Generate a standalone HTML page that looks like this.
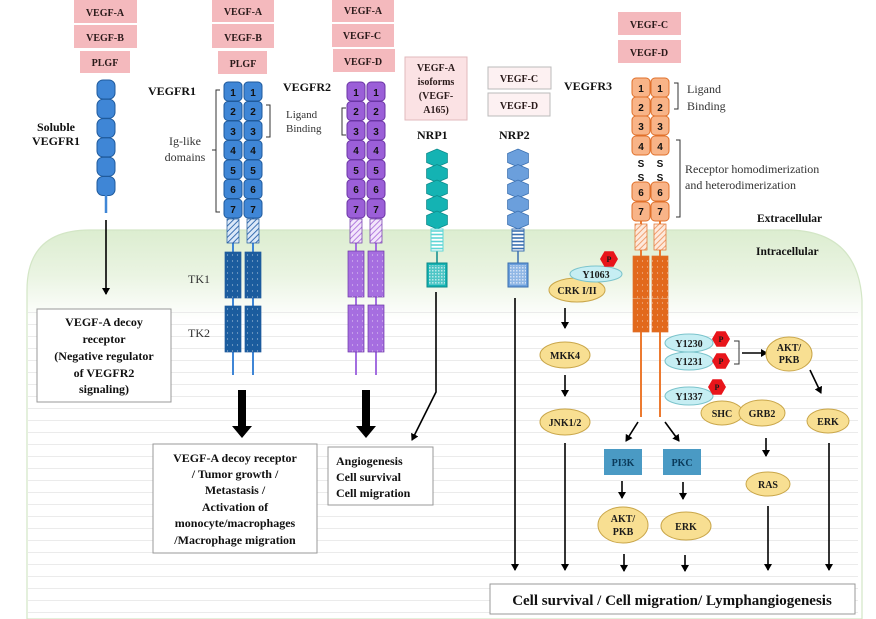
<!DOCTYPE html>
<html><head><meta charset="utf-8">
<style>
html,body{margin:0;padding:0;background:#fff;}
svg{display:block;font-family:"Liberation Serif",serif;}
.b{font-weight:bold;}
</style></head>
<body>
<svg id="s" width="876" height="619" viewBox="0 0 876 619" xmlns="http://www.w3.org/2000/svg">
<defs>
<linearGradient id="cell" x1="0" x2="0" gradientUnits="userSpaceOnUse" y1="230" y2="320">
<stop offset="0" stop-color="#dcedd0"/><stop offset="0.5" stop-color="#eaf4e2"/><stop offset="1" stop-color="#ffffff"/></linearGradient>
<pattern id="lines" width="12" height="12" patternUnits="userSpaceOnUse"><line x1="0" y1="0.5" x2="12" y2="0.5" stroke="#ebebeb" stroke-width="1"/></pattern>
<pattern id="h1" width="4" height="4" patternUnits="userSpaceOnUse" patternTransform="rotate(45)"><rect width="4" height="4" fill="#dbe8f8"/><line x1="0" y1="0" x2="0" y2="4" stroke-width="2" stroke="#3a6fb0"/></pattern>
<pattern id="h2" width="4" height="4" patternUnits="userSpaceOnUse" patternTransform="rotate(45)"><rect width="4" height="4" fill="#f3e6fb"/><line x1="0" y1="0" x2="0" y2="4" stroke-width="2" stroke="#b47ee0"/></pattern>
<pattern id="h3" width="4" height="4" patternUnits="userSpaceOnUse" patternTransform="rotate(45)"><rect width="4" height="4" fill="#fde9dc"/><line x1="0" y1="0" x2="0" y2="4" stroke-width="2" stroke="#f0a070"/></pattern>
<pattern id="dots" width="5" height="6" patternUnits="userSpaceOnUse"><circle cx="2.5" cy="3" r="0.6" fill="#ffffff" opacity="0.6"/></pattern>
<pattern id="chk" width="3" height="3" patternUnits="userSpaceOnUse"><rect width="3" height="3" fill="#fff" opacity="0.25"/><rect width="1.5" height="1.5" fill="#fff" opacity="0.6"/></pattern>
<marker id="ar" markerWidth="8" markerHeight="8" refX="6" refY="4" orient="auto" markerUnits="userSpaceOnUse"><path d="M0,0 L7,4 L0,8 Z" fill="#000"/></marker>
</defs>

<path d="M27,619 L27,290 Q27,230 90,230 L790,230 Q858,232 862,300 L862,619 Z" fill="url(#cell)" stroke="#d3e6c6" stroke-width="1.2"/>
<rect x="28" y="306" width="830" height="313" fill="url(#lines)"/>

<g class="b" font-size="10" text-anchor="middle" fill="#2a1a1a">
<rect x="74" y="0" width="63" height="23" fill="#f4b9bd"/><text x="105" y="16">VEGF-A</text>
<rect x="74" y="25" width="63" height="23" fill="#f4b9bd"/><text x="105" y="41">VEGF-B</text>
<rect x="80" y="51" width="50" height="22" fill="#f4b9bd"/><text x="105" y="66">PLGF</text>
<rect x="212" y="0" width="62" height="22" fill="#f4b9bd"/><text x="243" y="15">VEGF-A</text>
<rect x="212" y="24" width="62" height="24" fill="#f4b9bd"/><text x="243" y="41">VEGF-B</text>
<rect x="218" y="51" width="49" height="23" fill="#f4b9bd"/><text x="243" y="67">PLGF</text>
<rect x="332" y="0" width="62" height="22" fill="#f4b9bd"/><text x="363" y="14">VEGF-A</text>
<rect x="332" y="24" width="62" height="23" fill="#f4b9bd"/><text x="362" y="39">VEGF-C</text>
<rect x="333" y="49" width="62" height="23" fill="#f4b9bd"/><text x="363" y="65">VEGF-D</text>
<rect x="405" y="57" width="62" height="63" fill="#fbe2e4" stroke="#e2b9bc"/>
<text x="436" y="71">VEGF-A</text><text x="436" y="85">isoforms</text><text x="436" y="99">(VEGF-</text><text x="436" y="113">A165)</text>
<rect x="488" y="67" width="63" height="22" fill="#fdf1f2" stroke="#bbb"/><text x="519" y="82">VEGF-C</text>
<rect x="488" y="93" width="62" height="23" fill="#fdf1f2" stroke="#bbb"/><text x="519" y="109">VEGF-D</text>
<rect x="618" y="12" width="63" height="23" fill="#f4b9bd"/><text x="649" y="28">VEGF-C</text>
<rect x="618" y="40" width="63" height="23" fill="#f4b9bd"/><text x="649" y="56">VEGF-D</text>
</g>

<g id="shapes"></g>

<g class="b" font-size="12" fill="#111">
<text x="56" y="131" text-anchor="middle">Soluble</text><text x="56" y="145" text-anchor="middle">VEGFR1</text>
<text x="148" y="95">VEGFR1</text>
<text x="283" y="91">VEGFR2</text>
<text x="417" y="139">NRP1</text>
<text x="499" y="139">NRP2</text>
<text x="564" y="90">VEGFR3</text>
<text x="757" y="222" font-size="11.5">Extracellular</text>
<text x="756" y="255" font-size="11.5">Intracellular</text>
</g>
<g font-size="11" fill="#333">
<text x="185" y="145" text-anchor="middle" font-size="12">Ig-like</text><text x="185" y="161" text-anchor="middle" font-size="12">domains</text>
<text x="286" y="118">Ligand</text><text x="286" y="132">Binding</text>
<text x="687" y="93" font-size="12">Ligand</text><text x="687" y="110" font-size="12">Binding</text>
<text x="685" y="173" font-size="12">Receptor  homodimerization</text><text x="685" y="189" font-size="12">and heterodimerization</text>
<text x="188" y="283" font-size="12">TK1</text><text x="188" y="337" font-size="12">TK2</text>
</g>
<g fill="none" stroke="#333" stroke-width="1">
<path d="M220,90 L216,90 L216,212 L220,212 M216,150 L212,150"/>
<path d="M266,105 L270,105 L270,137 L266,137"/>
<path d="M346,108 L342,108 L342,135 L346,135"/>
<path d="M674,83 L678,83 L678,109 L674,109"/>
<path d="M676,140 L680,140 L680,217 L676,217"/>
<path d="M734,341 L739,341 L739,364 L734,364"/>
</g>

<g class="b" font-size="10" text-anchor="middle" fill="#111" font-family="Liberation Sans,sans-serif">
<text x="233" y="96">1</text><text x="253" y="96">1</text>
<text x="233" y="115">2</text><text x="253" y="115">2</text>
<text x="233" y="135">3</text><text x="253" y="135">3</text>
<text x="233" y="154">4</text><text x="253" y="154">4</text>
<text x="233" y="174">5</text><text x="253" y="174">5</text>
<text x="233" y="193">6</text><text x="253" y="193">6</text>
<text x="233" y="213">7</text><text x="253" y="213">7</text>
<text x="356" y="96">1</text><text x="376" y="96">1</text>
<text x="356" y="115">2</text><text x="376" y="115">2</text>
<text x="356" y="135">3</text><text x="376" y="135">3</text>
<text x="356" y="154">4</text><text x="376" y="154">4</text>
<text x="356" y="174">5</text><text x="376" y="174">5</text>
<text x="356" y="193">6</text><text x="376" y="193">6</text>
<text x="356" y="213">7</text><text x="376" y="213">7</text>
<text x="641" y="92">1</text><text x="660" y="92">1</text>
<text x="641" y="111">2</text><text x="660" y="111">2</text>
<text x="641" y="130">3</text><text x="660" y="130">3</text>
<text x="641" y="150">4</text><text x="660" y="150">4</text>
<text x="641" y="167">S</text><text x="660" y="167">S</text>
<text x="641" y="181">S</text><text x="660" y="181">S</text>
<text x="641" y="196">6</text><text x="660" y="196">6</text>
<text x="641" y="215">7</text><text x="660" y="215">7</text>
</g>

<g stroke="#000" stroke-width="1.6" fill="none">
<line x1="106" y1="220" x2="106" y2="294" marker-end="url(#ar)"/>
<polyline points="436,292 436,392 412,440" marker-end="url(#ar)"/>
<line x1="515" y1="298" x2="515" y2="570" marker-end="url(#ar)"/>
<line x1="565" y1="308" x2="565" y2="328" marker-end="url(#ar)"/>
<line x1="565" y1="375" x2="565" y2="396" marker-end="url(#ar)"/>
<line x1="565" y1="443" x2="565" y2="570" marker-end="url(#ar)"/>
<line x1="638" y1="422" x2="626" y2="441" marker-end="url(#ar)"/>
<line x1="665" y1="422" x2="679" y2="441" marker-end="url(#ar)"/>
<line x1="622" y1="481" x2="622" y2="498" marker-end="url(#ar)"/>
<line x1="683" y1="482" x2="683" y2="499" marker-end="url(#ar)"/>
<line x1="624" y1="554" x2="624" y2="571" marker-end="url(#ar)"/>
<line x1="685" y1="555" x2="685" y2="571" marker-end="url(#ar)"/>
<line x1="742" y1="353" x2="767" y2="353" marker-end="url(#ar)"/>
<line x1="810" y1="370" x2="821" y2="393" marker-end="url(#ar)"/>
<line x1="829" y1="443" x2="829" y2="570" marker-end="url(#ar)"/>
<line x1="766" y1="438" x2="766" y2="456" marker-end="url(#ar)"/>
<line x1="768" y1="506" x2="768" y2="570" marker-end="url(#ar)"/>
</g>
<path d="M238,390 h8 v36 h6 l-10,12 l-10,-12 h6 z" fill="#000"/>
<path d="M362,390 h8 v36 h6 l-10,12 l-10,-12 h6 z" fill="#000"/>

<g class="b" font-size="12" fill="#111" text-anchor="middle">
<rect x="37" y="309" width="134" height="93" fill="#fff" stroke="#999"/>
<text x="104" y="326">VEGF-A decoy</text><text x="104" y="343">receptor</text><text x="104" y="360">(Negative regulator</text><text x="104" y="377">of VEGFR2</text><text x="104" y="393">signaling)</text>
<rect x="153" y="444" width="164" height="109" fill="#fff" stroke="#999"/>
<text x="235" y="462">VEGF-A decoy  receptor</text><text x="235" y="478">/ Tumor growth /</text><text x="235" y="494">Metastasis /</text><text x="235" y="511">Activation of</text><text x="235" y="527">monocyte/macrophages</text><text x="235" y="544">/Macrophage  migration</text>
<rect x="328" y="447" width="105" height="58" fill="#fff" stroke="#999"/>
<text x="336" y="465" text-anchor="start">Angiogenesis</text><text x="336" y="481" text-anchor="start">Cell survival</text><text x="336" y="497" text-anchor="start">Cell migration</text>
<rect x="490" y="584" width="365" height="30" fill="#fff" stroke="#999"/>
<text x="672" y="605" font-size="15">Cell survival / Cell migration/ Lymphangiogenesis</text>
</g>

<g stroke="#c9a64a" stroke-width="1" fill="#f8df92">
<ellipse cx="577" cy="290" rx="28" ry="12"/>
<ellipse cx="565" cy="355" rx="25" ry="13"/>
<ellipse cx="565" cy="422" rx="25" ry="13"/>
<ellipse cx="789" cy="354" rx="23" ry="17"/>
<ellipse cx="828" cy="421" rx="21" ry="12"/>
<ellipse cx="722" cy="413" rx="21" ry="12"/>
<ellipse cx="762" cy="413" rx="23" ry="13"/>
<ellipse cx="768" cy="484" rx="22" ry="12"/>
<ellipse cx="623" cy="525" rx="25" ry="18"/>
<ellipse cx="686" cy="526" rx="25" ry="14"/>
</g>
<g stroke="#7cc4cc" stroke-width="1" fill="#c6eef3">
<ellipse cx="596" cy="274" rx="26" ry="8"/>
<ellipse cx="689" cy="343" rx="24" ry="9"/>
<ellipse cx="689" cy="361" rx="24" ry="9"/>
<ellipse cx="689" cy="396" rx="24" ry="9"/>
</g>
<rect x="604" y="449" width="38" height="26" fill="#4a9ac4"/>
<rect x="663" y="449" width="38" height="26" fill="#4a9ac4"/>
<g id="ps" fill="#e8151b"></g>
<g class="b" font-size="10" fill="#1a1a1a" text-anchor="middle">
<text x="577" y="294">CRK I/II</text>
<text x="565" y="359">MKK4</text>
<text x="565" y="426">JNK1/2</text>
<text x="789" y="351">AKT/</text><text x="789" y="363">PKB</text>
<text x="828" y="425">ERK</text>
<text x="722" y="417">SHC</text>
<text x="762" y="417">GRB2</text>
<text x="768" y="488">RAS</text>
<text x="623" y="522">AKT/</text><text x="623" y="535">PKB</text>
<text x="686" y="530">ERK</text>
<text x="596" y="278">Y1063</text>
<text x="689" y="347">Y1230</text>
<text x="689" y="365">Y1231</text>
<text x="689" y="400">Y1337</text>
<text x="623" y="466" fill="#0a3a5a">PI3K</text>
<text x="682" y="466" fill="#0a3a5a">PKC</text>
<text x="609" y="262" font-size="8">P</text>
<text x="721" y="342" font-size="8">P</text>
<text x="721" y="364" font-size="8">P</text>
<text x="717" y="390" font-size="8">P</text>
</g>
</svg>
<script>
(function(){
var NS="http://www.w3.org/2000/svg",g=document.getElementById("shapes");
function el(t,a,p){var e=document.createElementNS(NS,t);for(var k in a)e.setAttribute(k,a[k]);(p||g).appendChild(e);return e;}
for(var i=0;i<6;i++)el("rect",{x:97,y:80+i*19.3,width:18,height:19,rx:6,fill:"#3f86d6",stroke:"#1f5a9c"});
el("line",{x1:106,y1:195,x2:106,y2:213,stroke:"#3f86d6","stroke-width":2.5});
function receptor(xs,cfg){
 xs.forEach(function(x){
  var cx=x+9;
  el("line",{x1:cx,y1:210,x2:cx,y2:cfg.stemEnd,stroke:cfg.line,"stroke-width":2});
  cfg.doms.forEach(function(y){el("rect",{x:x,y:y,width:18,height:19,rx:4,fill:cfg.fill,stroke:cfg.stroke});});
  el("rect",{x:x+3,y:cfg.hat[0],width:12,height:cfg.hat[1]-cfg.hat[0],fill:"url(#"+cfg.hp+")",stroke:cfg.stroke,"stroke-width":0.7});
  cfg.tk.forEach(function(t){el("rect",{x:x+1,y:t[0],width:16,height:t[1]-t[0],fill:cfg.tkf,stroke:cfg.stroke,"stroke-width":0.7});
   el("rect",{x:x+1,y:t[0],width:16,height:t[1]-t[0],fill:"url(#dots)"});});
 });
}
var d7=[82,101.5,121,140.5,160,179.5,199];
receptor([224,244],{doms:d7,fill:"#3f86d6",stroke:"#1f5a9c",line:"#3f86d6",hat:[219,243],hp:"h1",tk:[[252,298],[306,352]],tkf:"#1b5c9e",stemEnd:375});
receptor([347,367],{doms:d7,fill:"#9b5fd8",stroke:"#6b35a5",line:"#a36ee0",hat:[219,243],hp:"h2",tk:[[251,297],[305,352]],tkf:"#a66ee0",stemEnd:375});
receptor([632,651],{doms:[78,97,116,136,182,202],fill:"#f8b488",stroke:"#e0702a",line:"#ec7a30",hat:[224,250],hp:"h3",tk:[[256,298],[299,332]],tkf:"#e2691c",stemEnd:417});
function hex(cx,cy,w,h,f,s){var p=[];for(var i=0;i<6;i++){var a=Math.PI/6+i*Math.PI/3;p.push((cx+w/2*Math.cos(a)).toFixed(1)+","+(cy+h/2*Math.sin(a)).toFixed(1));}el("polygon",{points:p.join(" "),fill:f,stroke:s,"stroke-width":0.8});}
[[437,"#14b3b3","#0c8a8a","#5fd6d6"],[518,"#6b9fdc","#3a6fb0","#3a6fb0"]].forEach(function(n){
 var cx=n[0];
 el("line",{x1:cx,y1:250,x2:cx,y2:264,stroke:n[2],"stroke-width":1.5});
 for(var i=0;i<5;i++)hex(cx,158+i*15.5,24,18,n[1],n[2]);
 el("rect",{x:cx-6,y:229,width:12,height:22,fill:"#fff",stroke:n[3]});
 for(var j=0;j<6;j++)el("line",{x1:cx-6,y1:231+j*3.5,x2:cx+6,y2:231+j*3.5,stroke:n[3],"stroke-width":1.6});
 el("rect",{x:cx-10,y:263,width:20,height:24,fill:n[1],stroke:n[2]});
 el("rect",{x:cx-8,y:265,width:16,height:20,fill:"url(#chk)"});
});
var ps=document.getElementById("ps");
[[609,259],[721,339],[721,361],[717,387]].forEach(function(p){var pts=[];for(var i=0;i<6;i++){var a=i*Math.PI/3;pts.push((p[0]+9*Math.cos(a)).toFixed(1)+","+(p[1]+9*Math.sin(a)).toFixed(1));}el("polygon",{points:pts.join(" ")},ps);});
})();
</script>
</body></html>
